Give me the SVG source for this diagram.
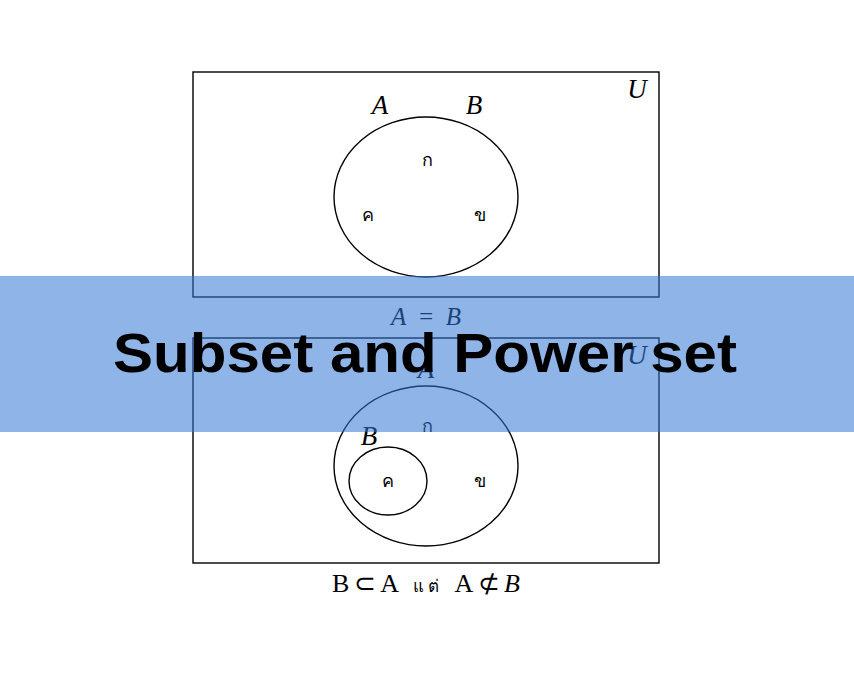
<svg xmlns="http://www.w3.org/2000/svg" width="854" height="684" viewBox="0 0 854 684">
<style>
.b{fill:none;stroke:#000;stroke-width:1.4}
.m{font-family:"Liberation Serif",serif;font-style:italic;font-size:27px;text-anchor:middle}
.t{font-family:"Noto Sans","Noto Sans CJK SC",sans-serif;font-size:18px;text-anchor:middle}
</style>
<rect width="854" height="684" fill="#fff"/>
<g id="top">
<rect class="b" x="193" y="72" width="466" height="225"/>
<ellipse class="b" cx="426" cy="197" rx="92" ry="80"/>
<text class="m" x="380" y="114">A</text>
<text class="m" x="474" y="114">B</text>
<text class="m" x="637" y="98">U</text>
<text class="t" x="427" y="166">ก</text>
<text class="t" x="368" y="221">ค</text>
<text class="t" x="480" y="221">ข</text>
<text class="m" x="426" y="325" style="font-size:25px" textLength="70" lengthAdjust="spacing">A=B</text>
</g>
<g id="bottom">
<rect class="b" x="193" y="338" width="466" height="225"/>
<ellipse class="b" cx="426" cy="466" rx="92" ry="80"/>
<ellipse class="b" cx="388" cy="481" rx="39" ry="34"/>
<text class="m" x="426" y="378">A</text>
<text class="m" x="369" y="445">B</text>
<text class="m" x="637" y="364">U</text>
<text class="t" x="427" y="432">ก</text>
<text class="t" x="388" y="487">ค</text>
<text class="t" x="480" y="487">ข</text>
<text x="426" y="592" text-anchor="middle" textLength="188" lengthAdjust="spacing" style="font-family:'Liberation Serif','Noto Sans',serif;font-size:26px">B⊂A <tspan style="font-family:'Noto Sans',sans-serif;font-size:17px">แต่</tspan> A⊄<tspan font-style="italic">B</tspan></text>
</g>
<g id="banner">
<rect x="0" y="276" width="854" height="156" fill="#3176d5" fill-opacity="0.55"/>
<text x="425" y="372" text-anchor="middle" textLength="624" lengthAdjust="spacingAndGlyphs" style="font-family:'Liberation Sans',sans-serif;font-weight:bold;font-size:56px">Subset and Power set</text>
</g>
</svg>
